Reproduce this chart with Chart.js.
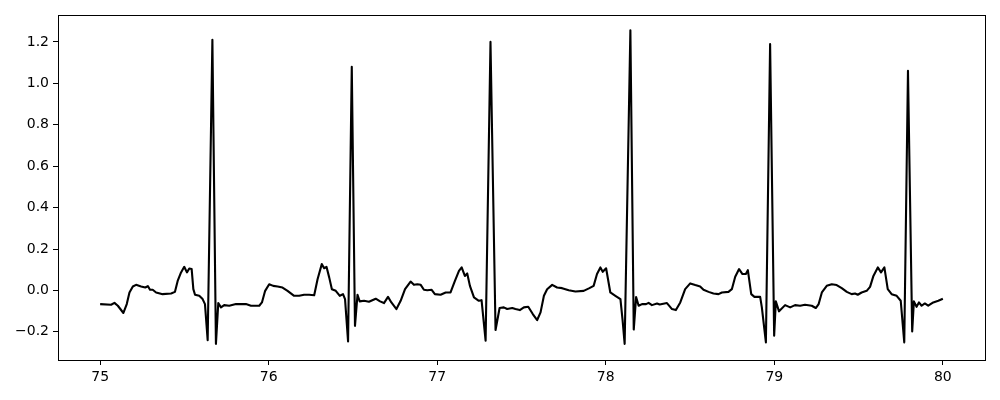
<!DOCTYPE html>
<html><head><meta charset="utf-8">
<script src="https://cdn.jsdelivr.net/npm/chart.js@4/dist/chart.umd.min.js"></script>
<style>html,body{margin:0;padding:0;background:#fff;}#wrap{width:1000px;height:400px;}</style>
</head><body><div id="wrap"><canvas id="c" width="1000" height="400"></canvas></div>
<script>
const timeSec = [75.000,75.065,75.085,75.105,75.138,75.158,75.174,75.194,75.213,75.243,75.268,75.283,75.296,75.312,75.332,75.371,75.421,75.444,75.460,75.480,75.499,75.515,75.529,75.543,75.553,75.563,75.588,75.608,75.622,75.638,75.666,75.687,75.701,75.717,75.736,75.766,
75.806,75.865,75.895,75.944,75.960,75.979,76.003,76.027,76.053,76.082,76.112,76.151,76.181,76.210,76.240,76.270,76.290,76.315,76.329,76.343,76.359,76.375,76.398,76.422,76.441,76.453,76.471,76.493,76.512,76.527,76.540,76.566,76.595,76.635,76.661,
76.684,76.708,76.728,76.758,76.783,76.809,76.842,76.862,76.882,76.902,76.921,76.941,76.967,76.986,77.020,77.050,77.079,77.105,77.129,77.145,77.164,77.178,77.194,77.218,77.247,77.263,77.287,77.316,77.346,77.370,77.395,77.415,77.445,77.464,77.490,
77.514,77.540,77.567,77.593,77.613,77.633,77.652,77.682,77.711,77.741,77.780,77.820,77.869,77.903,77.928,77.948,77.968,77.982,78.002,78.027,78.057,78.087,78.100,78.112,78.146,78.166,78.180,78.195,78.215,78.239,78.254,78.274,78.304,78.320,
78.363,78.393,78.416,78.442,78.471,78.501,78.531,78.560,78.580,78.610,78.639,78.669,78.689,78.728,78.748,78.768,78.791,78.811,78.831,78.843,78.863,78.882,78.916,78.926,78.950,78.975,78.999,79.009,79.028,79.064,79.094,79.123,
79.153,79.182,79.222,79.246,79.263,79.282,79.311,79.341,79.370,79.400,79.430,79.459,79.479,79.495,79.518,79.548,79.568,79.588,79.614,79.633,79.653,79.673,79.696,79.726,79.750,79.771,79.793,79.818,79.828,79.844,79.858,79.874,79.893,79.913,79.943,79.973,80.000];
const ecgMv = [-0.066,-0.069,-0.060,-0.074,-0.109,-0.066,-0.010,0.019,0.027,0.019,0.014,0.021,0.003,0.003,-0.010,-0.018,-0.015,-0.007,0.046,0.087,0.114,0.087,0.106,0.103,0.006,-0.021,-0.026,-0.042,-0.066,-0.240,1.210,-0.258,-0.061,-0.082,-0.071,-0.074,
-0.066,-0.066,-0.074,-0.074,-0.058,-0.002,0.030,0.022,0.019,0.014,-0.002,-0.026,-0.026,-0.021,-0.021,-0.023,0.054,0.127,0.107,0.114,0.063,0.006,-0.002,-0.026,-0.018,-0.042,-0.246,1.080,-0.171,-0.021,-0.053,-0.050,-0.055,-0.040,-0.053,
-0.061,-0.031,-0.058,-0.090,-0.050,0.006,0.043,0.027,0.030,0.027,0.003,0.001,0.003,-0.018,-0.021,-0.010,-0.010,0.046,0.094,0.111,0.070,0.082,0.022,-0.034,-0.050,-0.047,-0.243,1.200,-0.191,-0.085,-0.082,-0.090,-0.085,-0.090,-0.095,
-0.082,-0.079,-0.114,-0.143,-0.106,-0.026,0.006,0.027,0.014,0.011,0.001,-0.005,-0.002,0.011,0.022,0.079,0.111,0.090,0.107,-0.010,-0.026,-0.042,-0.146,-0.258,1.256,-0.189,-0.032,-0.074,-0.066,-0.066,-0.060,-0.071,-0.063,-0.068,
-0.061,-0.090,-0.095,-0.058,0.006,0.034,0.026,0.019,0.003,-0.007,-0.015,-0.018,-0.010,-0.007,0.006,0.066,0.103,0.079,0.079,0.098,-0.018,-0.031,-0.031,-0.082,-0.251,1.190,-0.219,-0.053,-0.101,-0.071,-0.082,-0.071,
-0.074,-0.069,-0.074,-0.085,-0.066,-0.010,0.022,0.030,0.026,0.011,-0.007,-0.018,-0.015,-0.021,-0.010,-0.002,0.017,0.070,0.111,0.087,0.111,0.006,-0.018,-0.026,-0.050,-0.251,1.060,-0.198,-0.053,-0.079,-0.058,-0.074,-0.063,-0.074,-0.058,-0.050,-0.040];
const xTicks = [75, 76, 77, 78, 79, 80];
const yTicks = [-0.2, 0.0, 0.2, 0.4, 0.6, 0.8, 1.0, 1.2];

const points = timeSec.map((t, i) => ({x: t, y: ecgMv[i]}));
const fmtY = v => (v < 0 ? '\u2212' + Math.abs(v).toFixed(1) : v.toFixed(1));

const frame = {
  id: 'frame',
  afterDraw(chart) {
    const a = chart.chartArea, ctx = chart.ctx;
    ctx.save();
    ctx.strokeStyle = '#000';
    ctx.lineWidth = 1;
    ctx.strokeRect(Math.round(a.left) + 0.5, Math.round(a.top) + 0.5, Math.round(a.right - a.left), Math.round(a.bottom - a.top));
    ctx.restore();
  }
};

const tickFont = {family: 'DejaVu Sans', size: 14};
new Chart(document.getElementById('c'), {
  type: 'line',
  data: {datasets: [{data: points, borderColor: '#000', borderWidth: 2.1, borderJoinStyle: 'round', borderCapStyle: 'butt', pointRadius: 0, tension: 0, fill: false}]},
  options: {
    responsive: false, animation: false,
    layout: {padding: {left: 0, top: 15, right: 15, bottom: 0}},
    plugins: {legend: {display: false}, tooltip: {enabled: false}},
    scales: {
      x: {
        type: 'linear', min: 74.75, max: 80.25,
        afterBuildTicks: s => { s.ticks = xTicks.map(v => ({value: v})); },
        afterFit: s => { s.height = 40; },
        grid: {drawOnChartArea: false, drawTicks: true, tickLength: 5, color: '#000', lineWidth: 1},
        border: {display: false},
        ticks: {color: '#000', font: tickFont, padding: 4, maxRotation: 0, callback: v => String(v)}
      },
      y: {
        type: 'linear', min: -0.336, max: 1.330,
        afterBuildTicks: s => { s.ticks = yTicks.map(v => ({value: v})); },
        afterFit: s => { s.width = 58; },
        grid: {drawOnChartArea: false, drawTicks: true, tickLength: 5, color: '#000', lineWidth: 1},
        border: {display: false},
        ticks: {color: '#000', font: tickFont, padding: 4, callback: v => fmtY(v)}
      }
    }
  },
  plugins: [frame]
});
</script>
</body></html>
